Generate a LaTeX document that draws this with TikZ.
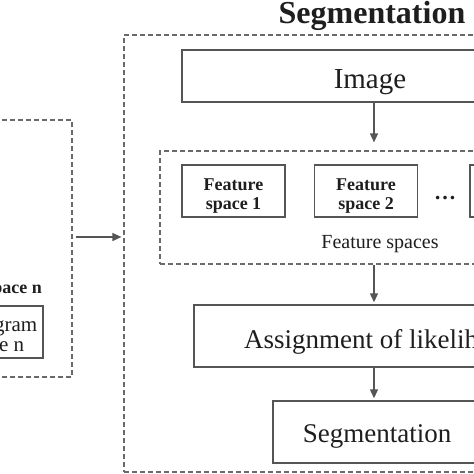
\documentclass[tikz,border=0pt]{standalone}
\usepackage{fontspec}
\setmainfont{Liberation Serif}
\usetikzlibrary{arrows.meta}
\definecolor{linegray}{HTML}{555555}
\definecolor{dashgray}{HTML}{6A6A6A}
\definecolor{txt}{HTML}{1E1E1E}
\begin{document}
\begin{tikzpicture}[x=1pt,y=-1pt,
  boxline/.style={draw=linegray,line width=1.4pt,inner sep=0pt},
  dashbox/.style={draw=dashgray,line width=1.2pt,dash pattern=on 5pt off 3pt,inner sep=0pt},
  arr/.style={draw=linegray,line width=1.3pt,-{Triangle[length=9pt,width=8pt]}},
  bigtxt/.style={text=txt,font=\fontsize{27}{30}\selectfont,inner sep=0pt,anchor=base},
  fstxt/.style={text=txt,font=\fontsize{18}{19}\selectfont\bfseries,align=center,inner sep=0pt,anchor=base},
  labtxt/.style={text=txt,font=\fontsize{20}{22}\selectfont,inner sep=0pt,anchor=base}]
\useasboundingbox (0,0) rectangle (474,474);
\clip (0,0) rectangle (474,474);
\fill[white] (0,0) rectangle (474,474);

% title
\node[text=txt,font=\fontsize{32}{36}\selectfont\bfseries,anchor=base,inner sep=0pt] (title) at (372,23) {Segmentation};

% left dashed box (histograms)
\node[dashbox,minimum width=102pt,minimum height=257pt] (left) at (21,248.5) {};
\node[fstxt,anchor=base east] (fsn) at (42,293) {Feature space n};
\node[boxline,minimum width=103pt,minimum height=52pt] (hist) at (-8.5,332) {};
\node[text=txt,font=\fontsize{21}{20}\selectfont,align=center,inner sep=0pt,anchor=base] (histtxt) at (-7,351) {Histogram\\space n};

% big segmentation dashed box
\node[dashbox,minimum width=396pt,minimum height=437pt] (big) at (322,253.5) {};

% image
\node[boxline,minimum width=384pt,minimum height=52pt] (img) at (374,76) {};
\node[bigtxt,font=\fontsize{29}{30}\selectfont] (imgtxt) at (370,88) {Image};

% feature spaces dashed box
\node[dashbox,minimum width=428pt,minimum height=113pt] (fs) at (374,207.5) {};
\node[boxline,minimum width=103pt,minimum height=52pt] (f1) at (233.5,191) {};
\node[fstxt] (f1txt) at (233.5,209) {Feature\\space 1};
\node[boxline,minimum width=103pt,minimum height=52pt] (f2) at (366,191) {};
\node[fstxt] (f2txt) at (366,209) {Feature\\space 2};
\node[text=txt,font=\fontsize{22}{22}\selectfont\bfseries,inner sep=0pt,anchor=base] (dots) at (445,199) {\dots};
\node[boxline,minimum width=103pt,minimum height=52pt] (f3) at (521.5,191) {};
\node[labtxt] (fslab) at (380,248) {Feature spaces};

% assignment
\node[boxline,minimum width=360pt,minimum height=62pt] (asg) at (374,336) {};
\node[bigtxt,anchor=base west] (asgtxt) at (244,348) {Assignment of likelih};

% segmentation
\node[boxline,minimum width=204pt,minimum height=62pt] (seg) at (375,432) {};
\node[bigtxt] (segtxt) at (377,442) {Segmentation};

% connectors
\coordinate (mid) at (100,237);
\draw[arr,shorten <=3pt,shorten >=2pt] (mid -| left.east) -- (mid -| big.west);
\draw[arr,shorten >=8pt] (img.south -| fs.north) -- (fs.north);
\draw[arr,shorten >=2pt] (fs.south) -- (fs.south |- asg.north);
\draw[arr,shorten >=2pt] (asg.south) -- (asg.south |- seg.north);
\end{tikzpicture}
\end{document}
